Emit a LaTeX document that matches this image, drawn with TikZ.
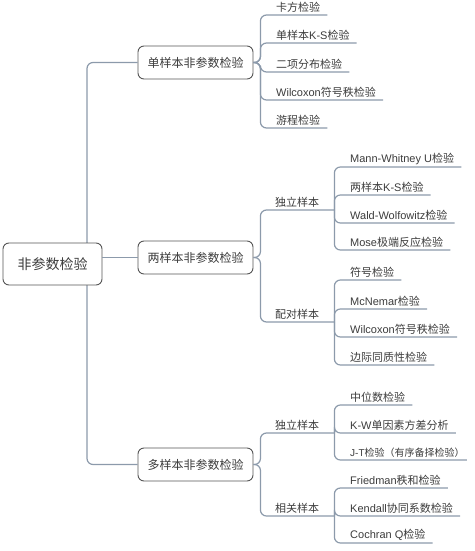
\documentclass[tikz,border=0pt]{standalone}
\usepackage{fontspec}
\setmainfont{Noto Sans CJK SC}
\newfontfamily\lat{Liberation Sans}
\usepackage{tikz}
\usetikzlibrary{positioning}
\usepackage{xcolor}
\definecolor{linkgray}{RGB}{140,154,171}
\definecolor{boxgray}{RGB}{85,85,85}
\definecolor{txtgray}{RGB}{60,60,60}

\begin{document}
\begin{tikzpicture}[x=1pt, y=-1pt, every node/.style={text=txtgray},
  box/.style={draw=boxgray, line width=0.9pt, rounded corners=6pt, fill=white, minimum width=115pt, minimum height=33pt, font=\fontsize{12}{14}\selectfont},
  leaf/.style={anchor=south west, xshift=9pt, inner xsep=7pt, inner ysep=2.5pt, font=\fontsize{11}{13}\selectfont},
  group/.style={anchor=south west, inner xsep=0pt, inner ysep=2.5pt, minimum width=74pt, font=\fontsize{11}{13}\selectfont},
  link/.style={draw=linkgray, line width=1.2pt, rounded corners=6pt}]
  \useasboundingbox (0,0) rectangle (474,551);

  % Level 1
  \node[box] (single) at (195.5,62.5) {单样本非参数检验};
  \node[box] (two) at (195.5,257.5) {两样本非参数检验};
  \node[box] (multi) at (195.5,464.5) {多样本非参数检验};

  % Single sample
  \node[leaf] (s1) at (260,15) {卡方检验};
  \node[leaf] (s2) at (260,43) {单样本{\lat K-S}检验};
  \node[leaf] (s3) at (260,72) {二项分布检验};
  \node[leaf] (s4) at (260,100) {{\lat Wilcoxon}符号秩检验};
  \node[leaf] (s5) at (260,128) {游程检验};

  % Two samples
  \node[group] (tind) at (260,210) {独立样本};
  \node[group] (tpair) at (260,322) {配对样本};
  \node[leaf] (ti1) at (334,167) {{\lat Mann-Whitney U}检验};
  \node[leaf] (ti2) at (334,195) {两样本{\lat K-S}检验};
  \node[leaf] (ti3) at (334,223) {{\lat Wald-Wolfowitz}检验};
  \node[leaf] (ti4) at (334,250) {{\lat Mose}极端反应检验};
  \node[leaf] (tp1) at (334,280) {符号检验};
  \node[leaf] (tp2) at (334,309) {{\lat McNemar}检验};
  \node[leaf] (tp3) at (334,337) {{\lat Wilcoxon}符号秩检验};
  \node[leaf] (tp4) at (334,365) {边际同质性检验};

  % Multiple samples
  \node[group] (mind) at (260,433) {独立样本};
  \node[group] (mrel) at (260,516) {相关样本};
  \node[leaf] (mi1) at (334,405) {中位数检验};
  \node[leaf] (mi2) at (334,433) {{\lat K-W}单因素方差分析};
  \node[leaf, inner xsep=2pt, xshift=5pt, font=\fontsize{10}{12}\selectfont] (mi3) at (334,460) {{\lat J-T}检验（有序备择检验）};
  \node[leaf] (mr1) at (334,488) {{\lat Friedman}秩和检验};
  \node[leaf] (mr2) at (334,516) {{\lat Kendall}协同系数检验};
  \node[leaf] (mr3) at (334,543) {{\lat Cochran Q}检验};

  % Links
  \coordinate (hub) at (87,264);
  \draw[link] (hub) |- (single.west);
  \draw[link] (hub) |- (multi.west);
  \foreach \n in {s1,s2,s3,s4,s5}
    \draw[link] (single.east) -- ++(7,0) |- (\n.south east);
  \foreach \n in {tind,tpair}
    \draw[link] (two.east) -- ++(7,0) |- (\n.south east);
  \foreach \n in {mind,mrel}
    \draw[link] (multi.east) -- ++(7,0) |- (\n.south east);
  \foreach \n in {ti1,ti2,ti3,ti4}
    \draw[link] (tind.south east) |- (\n.south east);
  \foreach \n in {tp1,tp2,tp3,tp4}
    \draw[link] (tpair.south east) |- (\n.south east);
  \foreach \n in {mi1,mi2,mi3}
    \draw[link] (mind.south east) |- (\n.south east);
  \foreach \n in {mr1,mr2,mr3}
    \draw[link] (mrel.south east) |- (\n.south east);

  % Root
  \node[box, minimum width=99pt, minimum height=42pt, font=\fontsize{14}{16}\selectfont] (root) at (52.5,264) {非参数检验};
  \draw[link] (root.east |- two.west) -- (two.west);
\end{tikzpicture}
\end{document}
